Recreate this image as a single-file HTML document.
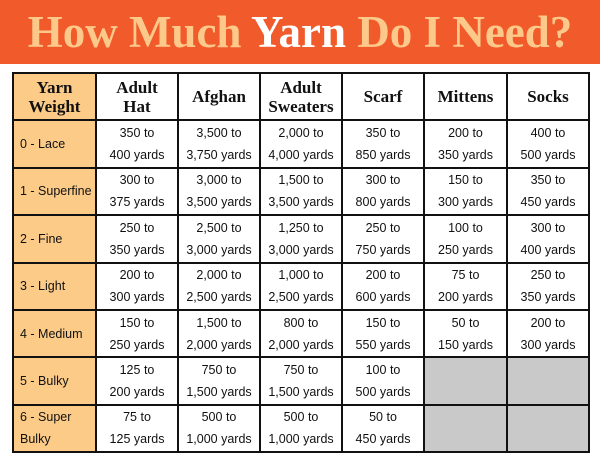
<!DOCTYPE html>
<html><head><style>
body{margin:0;width:600px;height:464px;background:#fff;overflow:hidden;font-family:"Liberation Sans",sans-serif;}
.banner{position:absolute;left:0;top:0;width:600px;height:64px;background:#f15a2a;}
.title{position:absolute;left:0;top:4px;width:600px;text-align:center;font-family:"Liberation Serif",serif;font-weight:bold;font-size:45px;color:#fdc98b;white-space:nowrap;line-height:56px;}
.title span{color:#fff;}
table{position:absolute;left:12px;top:72px;width:576px;border-collapse:collapse;table-layout:fixed;}
td{border:2px solid #111;height:47.4px;box-sizing:border-box;text-align:center;font-size:12.5px;line-height:22px;color:#111;padding:0;overflow:hidden;white-space:nowrap;}
tr.h td{font-family:"Liberation Serif",serif;font-weight:bold;font-size:17px;line-height:19px;}
td.w{background:#fccb88;text-align:left;padding-left:6px;}
tr.h td.w{text-align:center;padding-left:0;}
td.g{background:#c9c9c9;}
</style></head><body>
<div class="banner"></div>
<div class="title">How Much <span>Yarn</span> Do I Need?</div>
<table>
<colgroup><col style="width:83px"><col style="width:82px"><col style="width:82px"><col style="width:82px"><col style="width:82px"><col style="width:83px"><col style="width:82px"></colgroup>
<tr class="h"><td class="w">Yarn<br>Weight</td><td>Adult<br>Hat</td><td>Afghan</td><td>Adult<br>Sweaters</td><td>Scarf</td><td>Mittens</td><td>Socks</td></tr>
<tr><td class="w">0 - Lace</td><td>350 to<br>400 yards</td><td>3,500 to<br>3,750 yards</td><td>2,000 to<br>4,000 yards</td><td>350 to<br>850 yards</td><td>200 to<br>350 yards</td><td>400 to<br>500 yards</td></tr>
<tr><td class="w">1 - Superfine</td><td>300 to<br>375 yards</td><td>3,000 to<br>3,500 yards</td><td>1,500 to<br>3,500 yards</td><td>300 to<br>800 yards</td><td>150 to<br>300 yards</td><td>350 to<br>450 yards</td></tr>
<tr><td class="w">2 - Fine</td><td>250 to<br>350 yards</td><td>2,500 to<br>3,000 yards</td><td>1,250 to<br>3,000 yards</td><td>250 to<br>750 yards</td><td>100 to<br>250 yards</td><td>300 to<br>400 yards</td></tr>
<tr><td class="w">3 - Light</td><td>200 to<br>300 yards</td><td>2,000 to<br>2,500 yards</td><td>1,000 to<br>2,500 yards</td><td>200 to<br>600 yards</td><td>75 to<br>200 yards</td><td>250 to<br>350 yards</td></tr>
<tr><td class="w">4 - Medium</td><td>150 to<br>250 yards</td><td>1,500 to<br>2,000 yards</td><td>800 to<br>2,000 yards</td><td>150 to<br>550 yards</td><td>50 to<br>150 yards</td><td>200 to<br>300 yards</td></tr>
<tr><td class="w">5 - Bulky</td><td>125 to<br>200 yards</td><td>750 to<br>1,500 yards</td><td>750 to<br>1,500 yards</td><td>100 to<br>500 yards</td><td class="g"></td><td class="g"></td></tr>
<tr><td class="w">6 - Super<br>Bulky</td><td>75 to<br>125 yards</td><td>500 to<br>1,000 yards</td><td>500 to<br>1,000 yards</td><td>50 to<br>450 yards</td><td class="g"></td><td class="g"></td></tr>
</table>
</body></html>
